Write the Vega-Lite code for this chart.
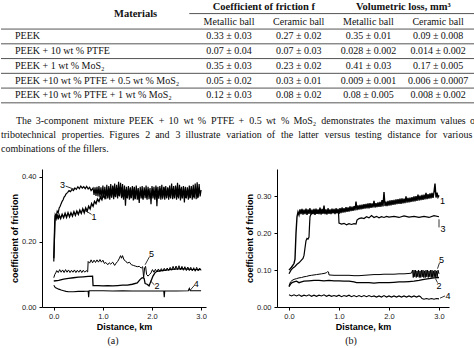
{
"$schema": "https://vega.github.io/schema/vega-lite/v6.json",
"padding": 0,
"spacing": 0,
"columns": 1,
"align": "none",
"config": {
 "view": {"stroke": null},
 "axis": {"grid": false, "labelFont": "Liberation Sans", "labelFontSize": 7.5, "labelColor": "#222", "domainColor": "#000", "tickColor": "#000", "tickSize": 3, "titleFont": "Liberation Sans", "titleFontSize": 9, "titleFontWeight": "bold", "titleColor": "#000", "labelFlush": false, "labelOverlap": false}
},
"datasets": {
 "hd": [
  {"r": -1, "c": 1.5, "t": "Coefficient of friction f"},
  {"r": -1, "c": 3.5, "t": "Volumetric loss, mm³"},
  {"r": -0.5, "c": -0.34, "t": "Materials"}
 ],
 "sh": [
  {"r": 0, "c": 1, "t": "Metallic ball"},
  {"r": 0, "c": 2, "t": "Ceramic ball"},
  {"r": 0, "c": 3, "t": "Metallic ball"},
  {"r": 0, "c": 4, "t": "Ceramic ball"}
 ],
 "names": [
  {"r": 1, "c": -2.07, "t": "PEEK"},
  {"r": 2, "c": -2.07, "t": "PEEK + 10 wt % PTFE"},
  {"r": 3, "c": -2.07, "t": "PEEK + 1 wt % MoS₂"},
  {"r": 4, "c": -2.07, "t": "PEEK +10 wt % PTFE + 0.5 wt % MoS₂"},
  {"r": 5, "c": -2.07, "t": "PEEK +10 wt % PTFE + 1 wt % MoS₂"}
 ],
 "cells": [
  {"r": 1, "c": 1, "t": "0.33 ± 0.03"}, {"r": 1, "c": 2, "t": "0.27 ± 0.02"}, {"r": 1, "c": 3, "t": "0.35 ± 0.01"}, {"r": 1, "c": 4, "t": "0.09 ± 0.008"},
  {"r": 2, "c": 1, "t": "0.07 ± 0.04"}, {"r": 2, "c": 2, "t": "0.07 ± 0.03"}, {"r": 2, "c": 3, "t": "0.028 ± 0.002"}, {"r": 2, "c": 4, "t": "0.014 ± 0.002"},
  {"r": 3, "c": 1, "t": "0.35 ± 0.03"}, {"r": 3, "c": 2, "t": "0.23 ± 0.02"}, {"r": 3, "c": 3, "t": "0.41 ± 0.03"}, {"r": 3, "c": 4, "t": "0.17 ± 0.005"},
  {"r": 4, "c": 1, "t": "0.05 ± 0.02"}, {"r": 4, "c": 2, "t": "0.03 ± 0.01"}, {"r": 4, "c": 3, "t": "0.009 ± 0.001"}, {"r": 4, "c": 4, "t": "0.006 ± 0.0007"},
  {"r": 5, "c": 1, "t": "0.12 ± 0.03"}, {"r": 5, "c": 2, "t": "0.08 ± 0.02"}, {"r": 5, "c": 3, "t": "0.08 ± 0.005"}, {"r": 5, "c": 4, "t": "0.008 ± 0.002"}
 ],
 "hl": [{"r": 0.5}, {"r": 1.5}, {"r": 2.5}, {"r": 3.5}, {"r": 4.5}, {"r": 5.5}],
 "gl": [{"r": -0.55, "c": 0.43, "c2": 4.53}],
 "para": [
  {"line": 1, "indent": 1, "t": "The\u2004\u200A3-component\u2002mixture\u2004\u200APEEK\u2002+\u2004\u200A10\u2002wt\u2004\u200A%\u2002PTFE\u2004\u200A+\u20020.5\u2004\u200Awt\u2002%\u2004\u200AMoS₂\u2002demonstrates\u2004\u200Athe\u2002maximum\u2004\u200Avalues\u2004\u200Aof"},
  {"line": 2, "indent": 0, "t": "tribotechnical\u2002\u200Aproperties.\u2002Figures\u2002\u200A2\u2002and\u2002\u200A3\u2002illustrate\u2002\u200Avariation\u2002of\u2002\u200Athe\u2002latter\u2002\u200Aversus\u2002testing\u2002\u200Adistance\u2002for\u2002\u200Avarious"},
  {"line": 3, "indent": 0, "t": "combinations of the fillers."}
 ],
 "a": [
  {"s":"3","x":0,"y":0.14},{"s":"3","x":0.01,"y":0.19},{"s":"3","x":0.02,"y":0.25},{"s":"3","x":0.03,"y":0.285},{"s":"3","x":0.05,"y":0.28},{"s":"3","x":0.07,"y":0.295},{"s":"3","x":0.09,"y":0.29},{"s":"3","x":0.11,"y":0.305},{"s":"3","x":0.13,"y":0.31},{"s":"3","x":0.15,"y":0.318},{"s":"3","x":0.17,"y":0.325},{"s":"3","x":0.19,"y":0.33},{"s":"3","x":0.21,"y":0.338},{"s":"3","x":0.23,"y":0.342},{"s":"3","x":0.25,"y":0.348},{"s":"3","x":0.28,"y":0.352},{"s":"3","x":0.31,"y":0.358},{"s":"3","x":0.34,"y":0.355},{"s":"3","x":0.37,"y":0.362},{"s":"3","x":0.4,"y":0.358},{"s":"3","x":0.43,"y":0.366},{"s":"3","x":0.46,"y":0.362},{"s":"3","x":0.49,"y":0.37},{"s":"3","x":0.52,"y":0.364},{"s":"3","x":0.55,"y":0.372},{"s":"3","x":0.58,"y":0.366},{"s":"3","x":0.61,"y":0.37},{"s":"3","x":0.64,"y":0.364},{"s":"3","x":0.67,"y":0.371},{"s":"3","x":0.7,"y":0.363},{"s":"3","x":0.73,"y":0.368},{"s":"3","x":0.76,"y":0.358},{"s":"3","x":0.8,"y":0.366},
  {"s":"3","x":0.82,"y":0.345},{"s":"3","x":0.84,"y":0.368},{"s":"3","x":0.86,"y":0.342},{"s":"3","x":0.88,"y":0.37},{"s":"3","x":0.9,"y":0.34},{"s":"3","x":0.92,"y":0.372},{"s":"3","x":0.94,"y":0.338},{"s":"3","x":0.96,"y":0.368},{"s":"3","x":0.98,"y":0.335},{"s":"3","x":1.0,"y":0.374},{"s":"3","x":1.02,"y":0.336},{"s":"3","x":1.04,"y":0.37},{"s":"3","x":1.06,"y":0.332},{"s":"3","x":1.08,"y":0.376},{"s":"3","x":1.1,"y":0.334},{"s":"3","x":1.12,"y":0.372},{"s":"3","x":1.14,"y":0.33},{"s":"3","x":1.16,"y":0.378},{"s":"3","x":1.18,"y":0.336},{"s":"3","x":1.2,"y":0.374},{"s":"3","x":1.22,"y":0.332},{"s":"3","x":1.24,"y":0.38},{"s":"3","x":1.26,"y":0.338},{"s":"3","x":1.28,"y":0.376},{"s":"3","x":1.3,"y":0.334},{"s":"3","x":1.32,"y":0.385},{"s":"3","x":1.34,"y":0.34},{"s":"3","x":1.36,"y":0.382},{"s":"3","x":1.38,"y":0.335},{"s":"3","x":1.4,"y":0.378},{"s":"3","x":1.42,"y":0.33},{"s":"3","x":1.44,"y":0.374},{"s":"3","x":1.46,"y":0.312},{"s":"3","x":1.48,"y":0.37},{"s":"3","x":1.5,"y":0.334},{"s":"3","x":1.52,"y":0.372},{"s":"3","x":1.54,"y":0.33},{"s":"3","x":1.56,"y":0.368},{"s":"3","x":1.58,"y":0.335},{"s":"3","x":1.6,"y":0.372},{"s":"3","x":1.62,"y":0.328},{"s":"3","x":1.64,"y":0.37},{"s":"3","x":1.66,"y":0.332},{"s":"3","x":1.68,"y":0.374},{"s":"3","x":1.7,"y":0.33},{"s":"3","x":1.72,"y":0.366},{"s":"3","x":1.74,"y":0.32},{"s":"3","x":1.76,"y":0.37},{"s":"3","x":1.78,"y":0.334},{"s":"3","x":1.8,"y":0.372},{"s":"3","x":1.82,"y":0.33},{"s":"3","x":1.84,"y":0.368},{"s":"3","x":1.86,"y":0.335},{"s":"3","x":1.88,"y":0.374},{"s":"3","x":1.9,"y":0.33},{"s":"3","x":1.92,"y":0.37},{"s":"3","x":1.94,"y":0.332},{"s":"3","x":1.96,"y":0.366},{"s":"3","x":1.98,"y":0.316},{"s":"3","x":2.0,"y":0.372},{"s":"3","x":2.02,"y":0.334},{"s":"3","x":2.04,"y":0.37},{"s":"3","x":2.06,"y":0.33},{"s":"3","x":2.08,"y":0.374},{"s":"3","x":2.1,"y":0.31},{"s":"3","x":2.12,"y":0.37},{"s":"3","x":2.14,"y":0.333},{"s":"3","x":2.16,"y":0.372},{"s":"3","x":2.18,"y":0.33},{"s":"3","x":2.2,"y":0.376},{"s":"3","x":2.22,"y":0.334},{"s":"3","x":2.24,"y":0.37},{"s":"3","x":2.26,"y":0.33},{"s":"3","x":2.28,"y":0.372},{"s":"3","x":2.3,"y":0.335},{"s":"3","x":2.32,"y":0.368},{"s":"3","x":2.34,"y":0.33},{"s":"3","x":2.36,"y":0.374},{"s":"3","x":2.38,"y":0.334},{"s":"3","x":2.4,"y":0.38},{"s":"3","x":2.42,"y":0.332},{"s":"3","x":2.44,"y":0.372},{"s":"3","x":2.46,"y":0.335},{"s":"3","x":2.48,"y":0.374},{"s":"3","x":2.5,"y":0.33},{"s":"3","x":2.52,"y":0.382},{"s":"3","x":2.54,"y":0.334},{"s":"3","x":2.56,"y":0.376},{"s":"3","x":2.58,"y":0.328},{"s":"3","x":2.6,"y":0.37},{"s":"3","x":2.62,"y":0.334},{"s":"3","x":2.64,"y":0.372},{"s":"3","x":2.66,"y":0.322},{"s":"3","x":2.68,"y":0.37},{"s":"3","x":2.7,"y":0.334},{"s":"3","x":2.72,"y":0.368},{"s":"3","x":2.74,"y":0.33},{"s":"3","x":2.76,"y":0.374},{"s":"3","x":2.78,"y":0.335},{"s":"3","x":2.8,"y":0.372},{"s":"3","x":2.82,"y":0.33},{"s":"3","x":2.84,"y":0.376},{"s":"3","x":2.86,"y":0.334},{"s":"3","x":2.88,"y":0.38},{"s":"3","x":2.9,"y":0.332},{"s":"3","x":2.92,"y":0.384},{"s":"3","x":2.94,"y":0.336},{"s":"3","x":2.96,"y":0.378},{"s":"3","x":2.98,"y":0.34},{"s":"3","x":3.0,"y":0.36},
  {"s":"1","x":0,"y":0.15},{"s":"1","x":0.01,"y":0.2},{"s":"1","x":0.02,"y":0.26},{"s":"1","x":0.03,"y":0.282},{"s":"1","x":0.05,"y":0.272},{"s":"1","x":0.07,"y":0.285},{"s":"1","x":0.09,"y":0.27},{"s":"1","x":0.11,"y":0.283},{"s":"1","x":0.14,"y":0.272},{"s":"1","x":0.17,"y":0.285},{"s":"1","x":0.2,"y":0.275},{"s":"1","x":0.23,"y":0.288},{"s":"1","x":0.26,"y":0.276},{"s":"1","x":0.29,"y":0.29},{"s":"1","x":0.32,"y":0.278},{"s":"1","x":0.35,"y":0.29},{"s":"1","x":0.38,"y":0.28},{"s":"1","x":0.41,"y":0.293},{"s":"1","x":0.44,"y":0.282},{"s":"1","x":0.47,"y":0.295},{"s":"1","x":0.5,"y":0.285},{"s":"1","x":0.53,"y":0.298},{"s":"1","x":0.56,"y":0.288},{"s":"1","x":0.59,"y":0.302},{"s":"1","x":0.62,"y":0.29},{"s":"1","x":0.65,"y":0.305},{"s":"1","x":0.68,"y":0.295},{"s":"1","x":0.71,"y":0.31},{"s":"1","x":0.74,"y":0.302},{"s":"1","x":0.77,"y":0.318},{"s":"1","x":0.8,"y":0.31},{"s":"1","x":0.83,"y":0.325},{"s":"1","x":0.86,"y":0.318},{"s":"1","x":0.89,"y":0.332},{"s":"1","x":0.92,"y":0.325},{"s":"1","x":0.95,"y":0.338},{"s":"1","x":0.98,"y":0.33},{"s":"1","x":1.01,"y":0.345},{"s":"1","x":1.04,"y":0.335},{"s":"1","x":1.07,"y":0.35},{"s":"1","x":1.1,"y":0.34},
  {"s":"1","x":1.13,"y":0.36},{"s":"1","x":1.17,"y":0.342},{"s":"1","x":1.21,"y":0.364},{"s":"1","x":1.25,"y":0.34},{"s":"1","x":1.29,"y":0.366},{"s":"1","x":1.33,"y":0.342},{"s":"1","x":1.37,"y":0.368},{"s":"1","x":1.41,"y":0.338},{"s":"1","x":1.45,"y":0.362},{"s":"1","x":1.49,"y":0.336},{"s":"1","x":1.53,"y":0.36},{"s":"1","x":1.57,"y":0.34},{"s":"1","x":1.61,"y":0.362},{"s":"1","x":1.65,"y":0.338},{"s":"1","x":1.69,"y":0.36},{"s":"1","x":1.73,"y":0.336},{"s":"1","x":1.77,"y":0.358},{"s":"1","x":1.81,"y":0.338},{"s":"1","x":1.85,"y":0.36},{"s":"1","x":1.89,"y":0.34},{"s":"1","x":1.93,"y":0.362},{"s":"1","x":1.97,"y":0.336},{"s":"1","x":2.01,"y":0.36},{"s":"1","x":2.05,"y":0.338},{"s":"1","x":2.09,"y":0.362},{"s":"1","x":2.13,"y":0.34},{"s":"1","x":2.17,"y":0.36},{"s":"1","x":2.21,"y":0.338},{"s":"1","x":2.25,"y":0.362},{"s":"1","x":2.29,"y":0.34},{"s":"1","x":2.33,"y":0.36},{"s":"1","x":2.37,"y":0.338},{"s":"1","x":2.41,"y":0.364},{"s":"1","x":2.45,"y":0.34},{"s":"1","x":2.49,"y":0.362},{"s":"1","x":2.53,"y":0.338},{"s":"1","x":2.57,"y":0.364},{"s":"1","x":2.61,"y":0.34},{"s":"1","x":2.65,"y":0.36},{"s":"1","x":2.69,"y":0.336},{"s":"1","x":2.73,"y":0.36},{"s":"1","x":2.77,"y":0.34},{"s":"1","x":2.81,"y":0.362},{"s":"1","x":2.85,"y":0.338},{"s":"1","x":2.89,"y":0.364},{"s":"1","x":2.93,"y":0.34},{"s":"1","x":2.97,"y":0.36},
  {"s":"5","x":0,"y":0.09},{"s":"5","x":0.02,"y":0.1},{"s":"5","x":0.04,"y":0.105},{"s":"5","x":0.06,"y":0.112},{"s":"5","x":0.09,"y":0.106},{"s":"5","x":0.12,"y":0.115},{"s":"5","x":0.15,"y":0.107},{"s":"5","x":0.18,"y":0.114},{"s":"5","x":0.21,"y":0.106},{"s":"5","x":0.24,"y":0.115},{"s":"5","x":0.27,"y":0.107},{"s":"5","x":0.3,"y":0.114},{"s":"5","x":0.33,"y":0.106},{"s":"5","x":0.36,"y":0.113},{"s":"5","x":0.39,"y":0.107},{"s":"5","x":0.42,"y":0.114},{"s":"5","x":0.45,"y":0.106},{"s":"5","x":0.48,"y":0.113},{"s":"5","x":0.51,"y":0.107},{"s":"5","x":0.54,"y":0.114},{"s":"5","x":0.57,"y":0.106},{"s":"5","x":0.6,"y":0.113},{"s":"5","x":0.63,"y":0.107},{"s":"5","x":0.66,"y":0.112},{"s":"5","x":0.69,"y":0.108},{"s":"5","x":0.7,"y":0.14},{"s":"5","x":0.73,"y":0.135},{"s":"5","x":0.76,"y":0.145},{"s":"5","x":0.79,"y":0.136},{"s":"5","x":0.82,"y":0.144},{"s":"5","x":0.85,"y":0.137},{"s":"5","x":0.88,"y":0.145},{"s":"5","x":0.91,"y":0.138},{"s":"5","x":0.94,"y":0.146},{"s":"5","x":0.97,"y":0.138},{"s":"5","x":1.0,"y":0.144},{"s":"5","x":1.03,"y":0.134},{"s":"5","x":1.06,"y":0.137},{"s":"5","x":1.1,"y":0.13},{"s":"5","x":1.13,"y":0.136},{"s":"5","x":1.16,"y":0.132},{"s":"5","x":1.2,"y":0.138},{"s":"5","x":1.24,"y":0.128},{"s":"5","x":1.27,"y":0.135},{"s":"5","x":1.3,"y":0.14},{"s":"5","x":1.33,"y":0.148},{"s":"5","x":1.36,"y":0.158},{"s":"5","x":1.38,"y":0.15},{"s":"5","x":1.4,"y":0.158},{"s":"5","x":1.43,"y":0.145},{"s":"5","x":1.46,"y":0.142},{"s":"5","x":1.5,"y":0.135},{"s":"5","x":1.54,"y":0.138},{"s":"5","x":1.58,"y":0.13},{"s":"5","x":1.62,"y":0.128},{"s":"5","x":1.66,"y":0.126},{"s":"5","x":1.7,"y":0.124},{"s":"5","x":1.74,"y":0.125},{"s":"5","x":1.78,"y":0.12},{"s":"5","x":1.81,"y":0.124},{"s":"5","x":1.83,"y":0.09},{"s":"5","x":1.85,"y":0.12},{"s":"5","x":1.87,"y":0.125},{"s":"5","x":1.89,"y":0.1},{"s":"5","x":1.92,"y":0.095},{"s":"5","x":1.95,"y":0.1},{"s":"5","x":1.98,"y":0.105},{"s":"5","x":2.01,"y":0.115},{"s":"5","x":2.04,"y":0.107},{"s":"5","x":2.07,"y":0.116},{"s":"5","x":2.1,"y":0.108},{"s":"5","x":2.13,"y":0.117},{"s":"5","x":2.16,"y":0.109},{"s":"5","x":2.19,"y":0.118},{"s":"5","x":2.22,"y":0.11},{"s":"5","x":2.25,"y":0.119},{"s":"5","x":2.28,"y":0.111},{"s":"5","x":2.31,"y":0.12},{"s":"5","x":2.34,"y":0.112},{"s":"5","x":2.37,"y":0.122},{"s":"5","x":2.4,"y":0.113},{"s":"5","x":2.43,"y":0.125},{"s":"5","x":2.46,"y":0.114},{"s":"5","x":2.49,"y":0.126},{"s":"5","x":2.52,"y":0.115},{"s":"5","x":2.55,"y":0.127},{"s":"5","x":2.58,"y":0.114},{"s":"5","x":2.61,"y":0.125},{"s":"5","x":2.64,"y":0.113},{"s":"5","x":2.67,"y":0.124},{"s":"5","x":2.7,"y":0.112},{"s":"5","x":2.73,"y":0.123},{"s":"5","x":2.76,"y":0.112},{"s":"5","x":2.79,"y":0.122},{"s":"5","x":2.82,"y":0.111},{"s":"5","x":2.85,"y":0.121},{"s":"5","x":2.88,"y":0.11},{"s":"5","x":2.91,"y":0.122},{"s":"5","x":2.94,"y":0.111},{"s":"5","x":2.97,"y":0.12},{"s":"5","x":3.0,"y":0.113},
  {"s":"2","x":0,"y":0.08},{"s":"2","x":0.1,"y":0.082},{"s":"2","x":0.2,"y":0.086},{"s":"2","x":0.3,"y":0.088},{"s":"2","x":0.4,"y":0.09},{"s":"2","x":0.5,"y":0.092},{"s":"2","x":0.6,"y":0.093},{"s":"2","x":0.7,"y":0.094},{"s":"2","x":0.79,"y":0.095},{"s":"2","x":0.8,"y":0.066},{"s":"2","x":0.9,"y":0.066},{"s":"2","x":1.0,"y":0.065},{"s":"2","x":1.1,"y":0.066},{"s":"2","x":1.2,"y":0.065},{"s":"2","x":1.3,"y":0.066},{"s":"2","x":1.4,"y":0.067},{"s":"2","x":1.5,"y":0.067},{"s":"2","x":1.6,"y":0.07},{"s":"2","x":1.7,"y":0.074},{"s":"2","x":1.76,"y":0.085},{"s":"2","x":1.8,"y":0.09},{"s":"2","x":1.84,"y":0.088},{"s":"2","x":1.86,"y":0.072},{"s":"2","x":1.9,"y":0.07},{"s":"2","x":1.94,"y":0.065},{"s":"2","x":1.98,"y":0.08},{"s":"2","x":2.02,"y":0.095},{"s":"2","x":2.06,"y":0.105},{"s":"2","x":2.1,"y":0.11},{"s":"2","x":2.2,"y":0.112},{"s":"2","x":2.4,"y":0.116},{"s":"2","x":2.6,"y":0.118},{"s":"2","x":2.8,"y":0.116},{"s":"2","x":3.0,"y":0.115},
  {"s":"4","x":0,"y":0.067},{"s":"4","x":0.03,"y":0.06},{"s":"4","x":0.06,"y":0.058},{"s":"4","x":0.1,"y":0.055},{"s":"4","x":0.15,"y":0.052},{"s":"4","x":0.2,"y":0.05},{"s":"4","x":0.25,"y":0.048},{"s":"4","x":0.3,"y":0.047},{"s":"4","x":0.4,"y":0.047},{"s":"4","x":0.5,"y":0.048},{"s":"4","x":0.6,"y":0.048},{"s":"4","x":0.7,"y":0.049},{"s":"4","x":0.71,"y":0.03},{"s":"4","x":0.72,"y":0.05},{"s":"4","x":0.8,"y":0.05},{"s":"4","x":1.0,"y":0.05},{"s":"4","x":1.2,"y":0.049},{"s":"4","x":1.4,"y":0.05},{"s":"4","x":1.6,"y":0.049},{"s":"4","x":1.8,"y":0.049},{"s":"4","x":2.0,"y":0.049},{"s":"4","x":2.24,"y":0.049},{"s":"4","x":2.25,"y":0.03},{"s":"4","x":2.26,"y":0.049},{"s":"4","x":2.5,"y":0.049},{"s":"4","x":2.74,"y":0.05},{"s":"4","x":2.76,"y":0.057},{"s":"4","x":2.78,"y":0.05},{"s":"4","x":3.0,"y":0.05}
 ],
 "alab": [
  {"x": 0.18, "y": 0.374, "t": "3"}, {"x": 0.82, "y": 0.277, "t": "1"}, {"x": 1.99, "y": 0.164, "t": "5"}, {"x": 2.1, "y": 0.064, "t": "2"}, {"x": 2.9, "y": 0.072, "t": "4"}
 ],
 "alead": [
  {"x": 0.24, "y": 0.372, "x2": 0.42, "y2": 0.362}, {"x": 0.77, "y": 0.285, "x2": 0.6, "y2": 0.3}, {"x": 1.95, "y": 0.155, "x2": 1.86, "y2": 0.13}, {"x": 2.05, "y": 0.068, "x2": 1.97, "y2": 0.08}, {"x": 2.86, "y": 0.066, "x2": 2.78, "y2": 0.052}
 ],
 "b": [
  {"s":"1","x":0,"y":0.1},{"s":"1","x":0.05,"y":0.108},{"s":"1","x":0.1,"y":0.118},{"s":"1","x":0.12,"y":0.13},{"s":"1","x":0.14,"y":0.2},{"s":"1","x":0.16,"y":0.245},{"s":"1","x":0.18,"y":0.258},{"s":"1","x":0.2,"y":0.25},
  {"s":"1","x":0.22,"y":0.265},{"s":"1","x":0.24,"y":0.252},{"s":"1","x":0.26,"y":0.266},{"s":"1","x":0.28,"y":0.251},{"s":"1","x":0.3,"y":0.264},{"s":"1","x":0.32,"y":0.252},{"s":"1","x":0.34,"y":0.267},{"s":"1","x":0.36,"y":0.25},{"s":"1","x":0.38,"y":0.265},{"s":"1","x":0.4,"y":0.253},{"s":"1","x":0.42,"y":0.268},{"s":"1","x":0.44,"y":0.251},{"s":"1","x":0.46,"y":0.264},{"s":"1","x":0.48,"y":0.252},{"s":"1","x":0.5,"y":0.266},{"s":"1","x":0.52,"y":0.25},{"s":"1","x":0.54,"y":0.267},{"s":"1","x":0.56,"y":0.253},{"s":"1","x":0.58,"y":0.265},{"s":"1","x":0.6,"y":0.252},{"s":"1","x":0.62,"y":0.27},{"s":"1","x":0.64,"y":0.251},{"s":"1","x":0.66,"y":0.266},{"s":"1","x":0.68,"y":0.253},{"s":"1","x":0.7,"y":0.275},{"s":"1","x":0.72,"y":0.252},{"s":"1","x":0.74,"y":0.265},{"s":"1","x":0.76,"y":0.251},{"s":"1","x":0.78,"y":0.268},{"s":"1","x":0.8,"y":0.253},{"s":"1","x":0.82,"y":0.265},{"s":"1","x":0.84,"y":0.252},{"s":"1","x":0.86,"y":0.267},{"s":"1","x":0.88,"y":0.254},{"s":"1","x":0.9,"y":0.266},{"s":"1","x":0.92,"y":0.252},{"s":"1","x":0.94,"y":0.268},{"s":"1","x":0.96,"y":0.254},{"s":"1","x":0.98,"y":0.266},{"s":"1","x":1.0,"y":0.253},{"s":"1","x":1.02,"y":0.268},{"s":"1","x":1.04,"y":0.255},{"s":"1","x":1.06,"y":0.27},{"s":"1","x":1.08,"y":0.256},{"s":"1","x":1.1,"y":0.268},{"s":"1","x":1.12,"y":0.257},{"s":"1","x":1.14,"y":0.271},{"s":"1","x":1.16,"y":0.258},{"s":"1","x":1.18,"y":0.27},{"s":"1","x":1.2,"y":0.259},{"s":"1","x":1.22,"y":0.273},{"s":"1","x":1.24,"y":0.26},{"s":"1","x":1.26,"y":0.272},{"s":"1","x":1.28,"y":0.261},{"s":"1","x":1.3,"y":0.274},{"s":"1","x":1.32,"y":0.262},{"s":"1","x":1.34,"y":0.286},{"s":"1","x":1.36,"y":0.263},{"s":"1","x":1.38,"y":0.276},{"s":"1","x":1.4,"y":0.264},{"s":"1","x":1.42,"y":0.277},{"s":"1","x":1.44,"y":0.265},{"s":"1","x":1.46,"y":0.278},{"s":"1","x":1.48,"y":0.266},{"s":"1","x":1.5,"y":0.279},{"s":"1","x":1.52,"y":0.267},{"s":"1","x":1.54,"y":0.28},{"s":"1","x":1.56,"y":0.268},{"s":"1","x":1.58,"y":0.281},{"s":"1","x":1.6,"y":0.268},{"s":"1","x":1.62,"y":0.282},{"s":"1","x":1.64,"y":0.269},{"s":"1","x":1.66,"y":0.281},{"s":"1","x":1.68,"y":0.27},{"s":"1","x":1.7,"y":0.288},{"s":"1","x":1.72,"y":0.27},{"s":"1","x":1.74,"y":0.282},{"s":"1","x":1.76,"y":0.271},{"s":"1","x":1.78,"y":0.284},{"s":"1","x":1.8,"y":0.272},{"s":"1","x":1.82,"y":0.285},{"s":"1","x":1.84,"y":0.272},{"s":"1","x":1.86,"y":0.29},{"s":"1","x":1.88,"y":0.273},{"s":"1","x":1.9,"y":0.312},{"s":"1","x":1.92,"y":0.274},{"s":"1","x":1.94,"y":0.286},{"s":"1","x":1.96,"y":0.274},{"s":"1","x":1.98,"y":0.288},{"s":"1","x":2.0,"y":0.275},{"s":"1","x":2.02,"y":0.289},{"s":"1","x":2.04,"y":0.276},{"s":"1","x":2.06,"y":0.29},{"s":"1","x":2.08,"y":0.277},{"s":"1","x":2.1,"y":0.291},{"s":"1","x":2.12,"y":0.278},{"s":"1","x":2.14,"y":0.292},{"s":"1","x":2.16,"y":0.279},{"s":"1","x":2.18,"y":0.293},{"s":"1","x":2.2,"y":0.28},{"s":"1","x":2.22,"y":0.294},{"s":"1","x":2.24,"y":0.28},{"s":"1","x":2.26,"y":0.295},{"s":"1","x":2.28,"y":0.281},{"s":"1","x":2.3,"y":0.294},{"s":"1","x":2.32,"y":0.282},{"s":"1","x":2.34,"y":0.3},{"s":"1","x":2.36,"y":0.283},{"s":"1","x":2.38,"y":0.296},{"s":"1","x":2.4,"y":0.284},{"s":"1","x":2.42,"y":0.297},{"s":"1","x":2.44,"y":0.285},{"s":"1","x":2.46,"y":0.298},{"s":"1","x":2.48,"y":0.286},{"s":"1","x":2.5,"y":0.3},{"s":"1","x":2.52,"y":0.287},{"s":"1","x":2.54,"y":0.301},{"s":"1","x":2.56,"y":0.288},{"s":"1","x":2.58,"y":0.305},{"s":"1","x":2.6,"y":0.289},{"s":"1","x":2.62,"y":0.302},{"s":"1","x":2.64,"y":0.29},{"s":"1","x":2.66,"y":0.304},{"s":"1","x":2.68,"y":0.291},{"s":"1","x":2.7,"y":0.305},{"s":"1","x":2.72,"y":0.292},{"s":"1","x":2.74,"y":0.31},{"s":"1","x":2.76,"y":0.293},{"s":"1","x":2.78,"y":0.306},{"s":"1","x":2.8,"y":0.294},{"s":"1","x":2.82,"y":0.308},{"s":"1","x":2.84,"y":0.295},{"s":"1","x":2.86,"y":0.31},{"s":"1","x":2.88,"y":0.296},{"s":"1","x":2.9,"y":0.312},{"s":"1","x":2.92,"y":0.335},{"s":"1","x":2.94,"y":0.297},{"s":"1","x":2.96,"y":0.31},{"s":"1","x":2.98,"y":0.298},{"s":"1","x":3.0,"y":0.303},
  {"s":"3","x":0,"y":0.09},{"s":"3","x":0.04,"y":0.1},{"s":"3","x":0.08,"y":0.106},{"s":"3","x":0.12,"y":0.11},{"s":"3","x":0.16,"y":0.116},{"s":"3","x":0.2,"y":0.12},{"s":"3","x":0.24,"y":0.126},{"s":"3","x":0.28,"y":0.132},{"s":"3","x":0.3,"y":0.14},{"s":"3","x":0.32,"y":0.16},{"s":"3","x":0.34,"y":0.18},{"s":"3","x":0.36,"y":0.186},{"s":"3","x":0.38,"y":0.184},{"s":"3","x":0.4,"y":0.19},{"s":"3","x":0.41,"y":0.22},{"s":"3","x":0.42,"y":0.245},{"s":"3","x":0.44,"y":0.252},{"s":"3","x":0.48,"y":0.256},{"s":"3","x":0.55,"y":0.255},{"s":"3","x":0.65,"y":0.257},{"s":"3","x":0.75,"y":0.256},{"s":"3","x":0.85,"y":0.258},{"s":"3","x":0.95,"y":0.257},{"s":"3","x":0.99,"y":0.258},{"s":"3","x":1.0,"y":0.228},{"s":"3","x":1.05,"y":0.225},{"s":"3","x":1.1,"y":0.227},{"s":"3","x":1.15,"y":0.223},{"s":"3","x":1.2,"y":0.226},{"s":"3","x":1.25,"y":0.224},{"s":"3","x":1.3,"y":0.226},{"s":"3","x":1.34,"y":0.225},{"s":"3","x":1.36,"y":0.236},{"s":"3","x":1.4,"y":0.24},{"s":"3","x":1.45,"y":0.242},{"s":"3","x":1.5,"y":0.24},{"s":"3","x":1.55,"y":0.245},{"s":"3","x":1.6,"y":0.242},{"s":"3","x":1.65,"y":0.248},{"s":"3","x":1.7,"y":0.243},{"s":"3","x":1.75,"y":0.246},{"s":"3","x":1.8,"y":0.242},{"s":"3","x":1.85,"y":0.245},{"s":"3","x":1.9,"y":0.243},{"s":"3","x":1.95,"y":0.246},{"s":"3","x":2.0,"y":0.244},{"s":"3","x":2.1,"y":0.246},{"s":"3","x":2.2,"y":0.243},{"s":"3","x":2.3,"y":0.247},{"s":"3","x":2.4,"y":0.244},{"s":"3","x":2.5,"y":0.246},{"s":"3","x":2.6,"y":0.243},{"s":"3","x":2.7,"y":0.246},{"s":"3","x":2.8,"y":0.243},{"s":"3","x":2.9,"y":0.248},{"s":"3","x":3.0,"y":0.245},
  {"s":"5","x":0,"y":0.058},{"s":"5","x":0.03,"y":0.068},{"s":"5","x":0.06,"y":0.072},{"s":"5","x":0.1,"y":0.075},{"s":"5","x":0.15,"y":0.077},{"s":"5","x":0.2,"y":0.079},{"s":"5","x":0.25,"y":0.08},{"s":"5","x":0.3,"y":0.082},{"s":"5","x":0.35,"y":0.083},{"s":"5","x":0.4,"y":0.085},{"s":"5","x":0.45,"y":0.086},{"s":"5","x":0.5,"y":0.087},{"s":"5","x":0.55,"y":0.088},{"s":"5","x":0.6,"y":0.089},{"s":"5","x":0.65,"y":0.09},{"s":"5","x":0.7,"y":0.091},{"s":"5","x":0.75,"y":0.093},{"s":"5","x":0.77,"y":0.096},{"s":"5","x":0.79,"y":0.095},{"s":"5","x":0.8,"y":0.087},{"s":"5","x":0.9,"y":0.086},{"s":"5","x":1.0,"y":0.086},{"s":"5","x":1.1,"y":0.086},{"s":"5","x":1.2,"y":0.086},{"s":"5","x":1.3,"y":0.085},{"s":"5","x":1.4,"y":0.085},{"s":"5","x":1.5,"y":0.086},{"s":"5","x":1.6,"y":0.087},{"s":"5","x":1.7,"y":0.088},{"s":"5","x":1.8,"y":0.088},{"s":"5","x":1.9,"y":0.089},{"s":"5","x":2.0,"y":0.089},{"s":"5","x":2.1,"y":0.089},{"s":"5","x":2.2,"y":0.09},{"s":"5","x":2.3,"y":0.09},{"s":"5","x":2.4,"y":0.091},{"s":"5","x":2.45,"y":0.092},
  {"s":"5","x":2.47,"y":0.1},{"s":"5","x":2.485,"y":0.08},{"s":"5","x":2.5,"y":0.1},{"s":"5","x":2.515,"y":0.082},{"s":"5","x":2.53,"y":0.1},{"s":"5","x":2.545,"y":0.08},{"s":"5","x":2.56,"y":0.098},{"s":"5","x":2.575,"y":0.082},{"s":"5","x":2.59,"y":0.1},{"s":"5","x":2.605,"y":0.08},{"s":"5","x":2.62,"y":0.098},{"s":"5","x":2.635,"y":0.08},{"s":"5","x":2.65,"y":0.1},{"s":"5","x":2.665,"y":0.082},{"s":"5","x":2.68,"y":0.1},{"s":"5","x":2.695,"y":0.08},{"s":"5","x":2.71,"y":0.098},{"s":"5","x":2.725,"y":0.08},{"s":"5","x":2.74,"y":0.1},{"s":"5","x":2.755,"y":0.082},{"s":"5","x":2.77,"y":0.1},{"s":"5","x":2.785,"y":0.08},{"s":"5","x":2.8,"y":0.098},{"s":"5","x":2.815,"y":0.082},{"s":"5","x":2.83,"y":0.1},{"s":"5","x":2.845,"y":0.08},{"s":"5","x":2.86,"y":0.1},{"s":"5","x":2.875,"y":0.08},{"s":"5","x":2.89,"y":0.098},{"s":"5","x":2.905,"y":0.082},{"s":"5","x":2.92,"y":0.1},{"s":"5","x":2.935,"y":0.08},{"s":"5","x":2.95,"y":0.098},{"s":"5","x":2.965,"y":0.082},{"s":"5","x":2.98,"y":0.1},{"s":"5","x":3.0,"y":0.09},
  {"s":"2","x":0,"y":0.055},{"s":"2","x":0.03,"y":0.062},{"s":"2","x":0.06,"y":0.066},{"s":"2","x":0.1,"y":0.068},{"s":"2","x":0.15,"y":0.07},{"s":"2","x":0.2,"y":0.066},{"s":"2","x":0.25,"y":0.068},{"s":"2","x":0.3,"y":0.07},{"s":"2","x":0.4,"y":0.071},{"s":"2","x":0.5,"y":0.072},{"s":"2","x":0.6,"y":0.072},{"s":"2","x":0.7,"y":0.071},{"s":"2","x":0.8,"y":0.072},{"s":"2","x":0.9,"y":0.071},{"s":"2","x":1.0,"y":0.071},{"s":"2","x":1.1,"y":0.07},{"s":"2","x":1.2,"y":0.07},{"s":"2","x":1.3,"y":0.068},{"s":"2","x":1.35,"y":0.066},{"s":"2","x":1.4,"y":0.066},{"s":"2","x":1.5,"y":0.066},{"s":"2","x":1.6,"y":0.066},{"s":"2","x":1.7,"y":0.065},{"s":"2","x":1.8,"y":0.066},{"s":"2","x":1.9,"y":0.066},{"s":"2","x":2.0,"y":0.066},{"s":"2","x":2.1,"y":0.067},{"s":"2","x":2.2,"y":0.068},{"s":"2","x":2.3,"y":0.068},{"s":"2","x":2.4,"y":0.069},{"s":"2","x":2.5,"y":0.07},{"s":"2","x":2.6,"y":0.072},{"s":"2","x":2.7,"y":0.075},{"s":"2","x":2.8,"y":0.077},{"s":"2","x":2.9,"y":0.079},{"s":"2","x":3.0,"y":0.08},
  {"s":"4","x":0,"y":0.033},{"s":"4","x":0.05,"y":0.03},{"s":"4","x":0.1,"y":0.033},{"s":"4","x":0.15,"y":0.03},{"s":"4","x":0.2,"y":0.033},{"s":"4","x":0.25,"y":0.029},{"s":"4","x":0.3,"y":0.032},{"s":"4","x":0.35,"y":0.03},{"s":"4","x":0.4,"y":0.033},{"s":"4","x":0.45,"y":0.029},{"s":"4","x":0.5,"y":0.032},{"s":"4","x":0.55,"y":0.029},{"s":"4","x":0.6,"y":0.032},{"s":"4","x":0.65,"y":0.03},{"s":"4","x":0.7,"y":0.033},{"s":"4","x":0.75,"y":0.029},{"s":"4","x":0.8,"y":0.032},{"s":"4","x":0.85,"y":0.029},{"s":"4","x":0.9,"y":0.031},{"s":"4","x":0.95,"y":0.029},{"s":"4","x":1.0,"y":0.032},{"s":"4","x":1.05,"y":0.028},{"s":"4","x":1.1,"y":0.031},{"s":"4","x":1.15,"y":0.029},{"s":"4","x":1.2,"y":0.032},{"s":"4","x":1.25,"y":0.028},{"s":"4","x":1.3,"y":0.031},{"s":"4","x":1.35,"y":0.028},{"s":"4","x":1.4,"y":0.031},{"s":"4","x":1.45,"y":0.028},{"s":"4","x":1.5,"y":0.031},{"s":"4","x":1.55,"y":0.028},{"s":"4","x":1.6,"y":0.031},{"s":"4","x":1.65,"y":0.028},{"s":"4","x":1.7,"y":0.03},{"s":"4","x":1.75,"y":0.027},{"s":"4","x":1.8,"y":0.03},{"s":"4","x":1.85,"y":0.027},{"s":"4","x":1.9,"y":0.031},{"s":"4","x":1.95,"y":0.027},{"s":"4","x":2.0,"y":0.03},{"s":"4","x":2.05,"y":0.027},{"s":"4","x":2.1,"y":0.03},{"s":"4","x":2.15,"y":0.027},{"s":"4","x":2.2,"y":0.03},{"s":"4","x":2.25,"y":0.027},{"s":"4","x":2.3,"y":0.03},{"s":"4","x":2.35,"y":0.027},{"s":"4","x":2.4,"y":0.03},{"s":"4","x":2.45,"y":0.027},{"s":"4","x":2.5,"y":0.03},{"s":"4","x":2.55,"y":0.027},{"s":"4","x":2.6,"y":0.03},{"s":"4","x":2.63,"y":0.028},{"s":"4","x":2.66,"y":0.023},{"s":"4","x":2.7,"y":0.021},{"s":"4","x":2.75,"y":0.023},{"s":"4","x":2.8,"y":0.021},{"s":"4","x":2.85,"y":0.023},{"s":"4","x":2.9,"y":0.021},{"s":"4","x":2.95,"y":0.023},{"s":"4","x":3.0,"y":0.022}
 ],
 "blab": [
  {"x": 3.07, "y": 0.288, "t": "1"}, {"x": 3.08, "y": 0.212, "t": "3"}, {"x": 3.05, "y": 0.128, "t": "5"}, {"x": 3.0, "y": 0.058, "t": "2"}, {"x": 3.18, "y": 0.031, "t": "4"}
 ],
 "blead": [
  {"x": 3.0, "y": 0.238, "x2": 3.0, "y2": 0.216}, {"x": 2.97, "y": 0.104, "x2": 3.01, "y2": 0.12}, {"x": 2.93, "y": 0.077, "x2": 2.97, "y2": 0.066}, {"x": 3.02, "y": 0.024, "x2": 3.12, "y2": 0.03}
 ]
},
"concat": [
 {
  "width": 433, "height": 105,
  "layer": [
   {"data": {"name": "hl"}, "mark": {"type": "rule", "color": "#555", "strokeWidth": 1},
    "encoding": {"y": {"field": "r", "type": "quantitative", "scale": {"domain": [-1.471, 5.647], "reverse": true, "nice": false, "zero": false}, "axis": null},
                 "x": {"datum": -2.271, "type": "quantitative", "scale": {"domain": [-1.683, 4.529], "nice": false, "zero": false}, "axis": null}, "x2": {"datum": 4.529}}},
   {"data": {"name": "gl"}, "mark": {"type": "rule", "color": "#555", "strokeWidth": 1},
    "encoding": {"y": {"field": "r", "type": "quantitative"}, "x": {"field": "c", "type": "quantitative"}, "x2": {"field": "c2"}}},
   {"data": {"name": "hd"}, "mark": {"type": "text", "font": "Liberation Serif", "fontSize": 10.5, "fontWeight": "bold", "color": "#111", "align": "center", "baseline": "middle"},
    "encoding": {"y": {"field": "r", "type": "quantitative"}, "x": {"field": "c", "type": "quantitative"}, "text": {"field": "t"}}},
   {"data": {"name": "sh"}, "mark": {"type": "text", "font": "Liberation Serif", "fontSize": 10, "color": "#111", "align": "center", "baseline": "middle"},
    "encoding": {"y": {"field": "r", "type": "quantitative"}, "x": {"field": "c", "type": "quantitative"}, "text": {"field": "t"}}},
   {"data": {"name": "cells"}, "mark": {"type": "text", "font": "Liberation Serif", "fontSize": 10, "color": "#111", "align": "center", "baseline": "middle"},
    "encoding": {"y": {"field": "r", "type": "quantitative"}, "x": {"field": "c", "type": "quantitative"}, "text": {"field": "t"}}},
   {"data": {"name": "names"}, "mark": {"type": "text", "font": "Liberation Serif", "fontSize": 10, "color": "#111", "align": "left", "baseline": "middle"},
    "encoding": {"y": {"field": "r", "type": "quantitative"}, "x": {"field": "c", "type": "quantitative"}, "text": {"field": "t"}}}
  ]
 },
 {
  "width": 433, "height": 64,
  "data": {"name": "para"},
  "mark": {"type": "text", "font": "Liberation Serif", "fontSize": 10, "color": "#111", "align": "left", "baseline": "middle"},
  "encoding": {
   "x": {"field": "indent", "type": "quantitative", "scale": {"domain": [2.733, 31.6], "nice": false, "zero": false}, "axis": null},
   "y": {"field": "line", "type": "quantitative", "scale": {"domain": [-0.143, 4.43], "reverse": true, "nice": false, "zero": false}, "axis": null},
   "text": {"field": "t"}
  }
 },
 {
  "hconcat": [
   {
    "width": 164, "height": 138,
    "title": {"text": "(a)", "orient": "bottom", "font": "Liberation Serif", "fontSize": 10, "fontWeight": "normal", "color": "#111", "dx": -11, "offset": 4},
    "layer": [
     {"data": {"name": "a"}, "mark": {"type": "line", "color": "#000"},
      "encoding": {
       "x": {"field": "x", "type": "quantitative", "scale": {"domain": [-0.24, 3.1], "nice": false, "zero": false},
             "axis": {"values": [0, 0.5, 1, 1.5, 2, 2.5, 3], "format": ".1f", "labelPadding": 2, "title": "Distance, km", "titlePadding": 3}},
       "y": {"field": "y", "type": "quantitative", "scale": {"domain": [0, 0.4246], "nice": false, "zero": false},
             "axis": {"values": [0, 0.05, 0.1, 0.15, 0.2, 0.25, 0.3, 0.35, 0.4], "format": ".2f", "labelPadding": 3, "title": ["", "coefficient of friction"], "titleLineHeight": 9.5, "titlePadding": 2}},
       "detail": {"field": "s"},
       "strokeWidth": {"field": "s", "type": "nominal", "scale": {"domain": ["1", "2", "3", "4", "5"], "range": [1.4, 1, 1.4, 1.3, 1.8]}, "legend": null}
      }},
     {"data": {"name": "alead"}, "mark": {"type": "rule", "color": "#000", "strokeWidth": 0.8},
      "encoding": {"x": {"field": "x", "type": "quantitative"}, "y": {"field": "y", "type": "quantitative"}, "x2": {"field": "x2"}, "y2": {"field": "y2"}}},
     {"data": {"name": "alab"}, "mark": {"type": "text", "font": "Liberation Sans", "fontSize": 9, "color": "#000"},
      "encoding": {"x": {"field": "x", "type": "quantitative"}, "y": {"field": "y", "type": "quantitative"}, "text": {"field": "t"}}}
    ]
   },
   {
    "width": 172, "height": 138,
    "title": {"text": "(b)", "orient": "bottom", "font": "Liberation Serif", "fontSize": 10, "fontWeight": "normal", "color": "#111", "dx": -12, "offset": 4},
    "layer": [
     {"data": {"name": "b"}, "mark": {"type": "line", "color": "#000"},
      "encoding": {
       "x": {"field": "x", "type": "quantitative", "scale": {"domain": [-0.24, 3.2], "nice": false, "zero": false},
             "axis": {"values": [0, 0.5, 1, 1.5, 2, 2.5, 3], "format": ".1f", "labelPadding": 2, "title": "Distance, km", "titlePadding": 3}},
       "y": {"field": "y", "type": "quantitative", "scale": {"domain": [0, 0.3745], "nice": false, "zero": false},
             "axis": {"values": [0, 0.05, 0.1, 0.15, 0.2, 0.25, 0.3, 0.35], "format": ".2f", "labelPadding": 3, "title": "coefficient of friction", "titlePadding": 2}},
       "detail": {"field": "s"},
       "strokeWidth": {"field": "s", "type": "nominal", "scale": {"domain": ["1", "2", "3", "4", "5"], "range": [1.3, 1.2, 1, 1.4, 1.6]}, "legend": null}
      }},
     {"data": {"name": "blead"}, "mark": {"type": "rule", "color": "#000", "strokeWidth": 0.8},
      "encoding": {"x": {"field": "x", "type": "quantitative"}, "y": {"field": "y", "type": "quantitative"}, "x2": {"field": "x2"}, "y2": {"field": "y2"}}},
     {"data": {"name": "blab"}, "mark": {"type": "text", "font": "Liberation Sans", "fontSize": 9, "color": "#000"},
      "encoding": {"x": {"field": "x", "type": "quantitative"}, "y": {"field": "y", "type": "quantitative"}, "text": {"field": "t"}}}
    ]
   }
  ],
  "spacing": 38
 }
]
}
